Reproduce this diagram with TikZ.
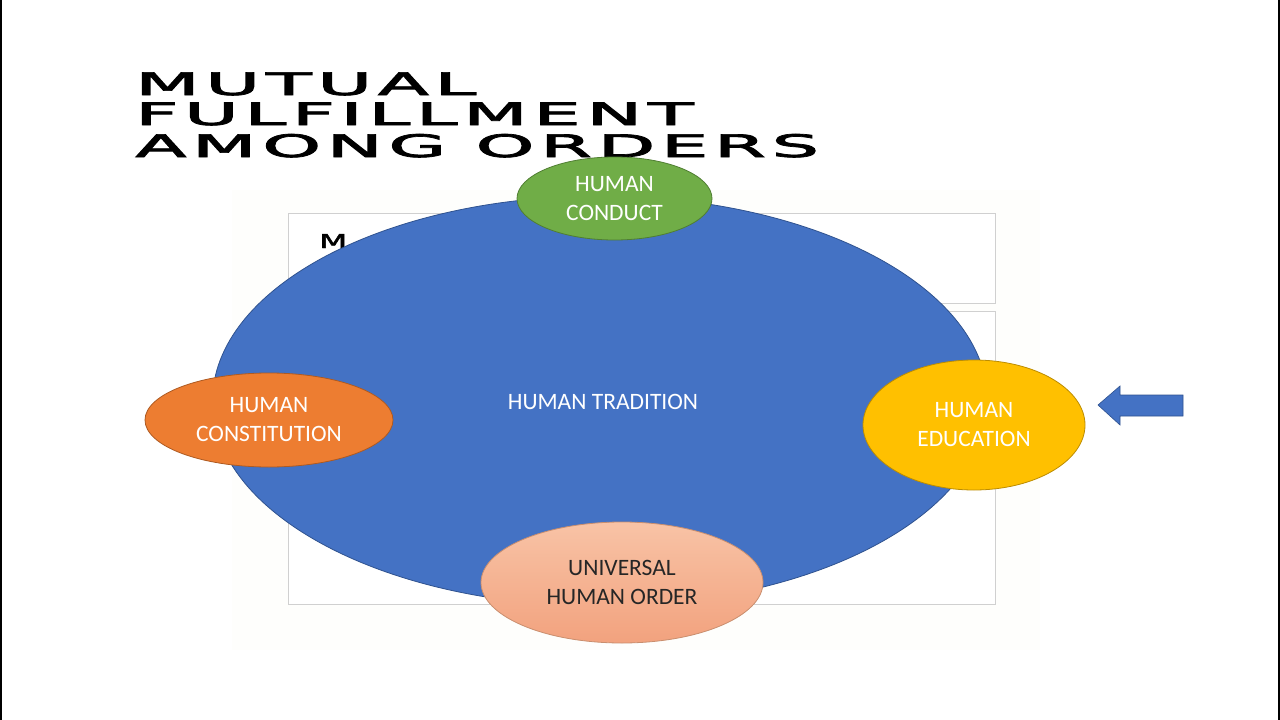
\documentclass[tikz,border=0pt]{standalone}
\usepackage{fontspec}
\setmainfont{Carlito}
\newfontfamily\titlefont[LetterSpace=8,FakeBold=2.2]{DejaVu Sans}
\newfontfamily\mfont[FakeBold=2]{DejaVu Sans}
\usetikzlibrary{shapes.geometric}
\definecolor{tblue}{HTML}{4472C4}
\definecolor{tblueb}{HTML}{2F528F}
\definecolor{tgreen}{HTML}{70AD47}
\definecolor{tgreenb}{HTML}{507E32}
\definecolor{torange}{HTML}{ED7D31}
\definecolor{torangeb}{HTML}{AE5A21}
\definecolor{tyellow}{HTML}{FFC000}
\definecolor{tyellowb}{HTML}{BC8C00}
\definecolor{tpeachT}{HTML}{F8C3A6}
\definecolor{tpeachB}{HTML}{F2A27E}
\definecolor{tpeachb}{HTML}{C98E6E}
\definecolor{boxline}{HTML}{D0D0D0}
\definecolor{cream}{HTML}{FEFEFC}
\tikzset{
  orb/.style={ellipse, inner sep=0pt, line width=0.8pt, align=center,
    font=\fontsize{23.5}{29}\selectfont},
  titleline/.style={anchor=base west, inner sep=0pt, xscale=2.4,
    font=\titlefont\fontsize{31}{31}\selectfont},
  bgbox/.style={draw=boxline, line width=0.7pt}
}
\begin{document}
\begin{tikzpicture}[x=1pt,y=-1pt]
\useasboundingbox (0,0) rectangle (1280,720);
\fill[white] (0,0) rectangle (1280,720);
\fill[cream] (232,190) rectangle (1040,650);
\fill[black] (0,0) rectangle (2,720);
\fill[black] (1278,0) rectangle (1280,720);
% title
\node[titleline] (t1) at (135,95) {MUTUAL};
\node[titleline] (t2) at (135,125) {FULFILLMENT};
\node[titleline] (t3) at (135,157) {AMONG ORDERS};
% background boxes
\draw[bgbox, fill=white] (288,213) rectangle (995,303);
\draw[bgbox, fill=white] (288,311) rectangle (995,604);
\node[anchor=base west, inner sep=0pt, xscale=1.7, font=\mfont\fontsize{19}{19}\selectfont] (m) at (319,248) {M};
% main ellipse
\node[orb, fill=tblue, draw=tblueb, minimum width=775pt, minimum height=410pt] (trad) at (600,401) {};
\node[font=\fontsize{23.5}{29}\selectfont, text=white] (tradtext) at (603,402) {HUMAN TRADITION};
\node[orb, fill=tgreen, draw=tgreenb, minimum width=195pt, minimum height=83pt, text=white] (conduct) at (614.5,198.5) {HUMAN\\CONDUCT};
\node[orb, fill=torange, draw=torangeb, minimum width=248pt, minimum height=94pt, text=white] (constitution) at (269,420) {HUMAN\\CONSTITUTION};
\node[orb, fill=tyellow, draw=tyellowb, minimum width=222pt, minimum height=130pt, text=white] (education) at (974,425) {HUMAN\\EDUCATION};
\node[orb, top color=tpeachT, bottom color=tpeachB, draw=tpeachb, minimum width=282pt, minimum height=121pt, text=black!85] (order) at (622,582.5) {UNIVERSAL\\HUMAN ORDER};
% block arrow
\coordinate (tip) at (1098,405);
\fill[tblue, draw=tblueb, line width=0.6pt] (tip) -- (1120,386) -- (1120,395) -- (1183,395) -- (1183,416) -- (1120,416) -- (1120,425) -- cycle;
\end{tikzpicture}
\end{document}
